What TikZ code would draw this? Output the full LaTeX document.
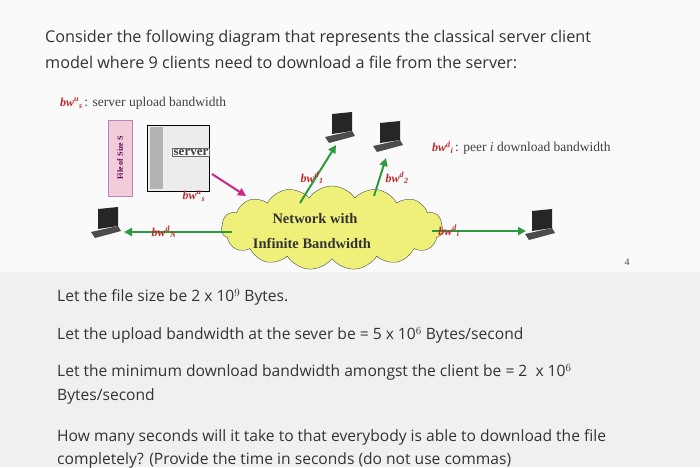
\documentclass[tikz,border=0pt]{standalone}
\usepackage{fontspec}
\setmainfont{Open Sans}
\newfontfamily\dserif{Liberation Serif}
\usetikzlibrary{shapes.symbols,arrows.meta}
\definecolor{bwred}{HTML}{C0282A}
\definecolor{arrgreen}{HTML}{2E9A3C}
\definecolor{cloudfill}{HTML}{EEF07A}
\newcommand{\bwl}[2]{bw\textsuperscript{#1}\textsubscript{#2}}
\tikzset{
  bw/.style={text=bwred,font=\dserif\bfseries\itshape\fontsize{12}{12}\selectfont,inner sep=1pt},
  body/.style={anchor=west,font=\fontsize{16.2}{16.2}\selectfont,text=black!80,inner sep=0pt},
  qtext/.style={anchor=west,font=\fontsize{15.6}{15.6}\selectfont,text=black!80,inner sep=0pt},
  darr/.style={draw=arrgreen,line width=2pt,-{Triangle[length=8pt,width=8pt]}},
  uarr/.style={draw=magenta!80!black,line width=2pt,-{Triangle[length=8pt,width=8pt]}},
}
\newcommand{\laptop}[2]{%
  \fill[black!85] (#1-10,#2-13) -- (#1+10,#2-15) -- (#1+10,#2+4) -- (#1-10,#2+7) -- cycle;
  \fill[black!70] (#1-17,#2+10) -- (#1+10,#2+4) -- (#1+13,#2+9) -- (#1-13,#2+16) -- cycle;}
\begin{document}
\begin{tikzpicture}[x=1pt,y=-1pt]
\useasboundingbox (0,0) rectangle (700,467);
\fill[white!96!gray] (0,0) rectangle (700,467);
\fill[black!6] (0,272) rectangle (700,467);
\node[body] (t1) at (45,38) {Consider the following diagram that represents the classical server client};
\node[body] (t2) at (45,62) {model where 9 clients need to download a file from the server:};
% legend
\node[anchor=west,inner sep=0pt] (lg1) at (60,103) {{\color{bwred}\dserif\bfseries\itshape\fontsize{12}{12}\selectfont \bwl{u}{s}}\,{\dserif\fontsize{13.5}{13.5}\selectfont\color{black!75} : server upload bandwidth}};
\node[anchor=west,inner sep=0pt] (lg2) at (432,148) {{\color{bwred}\dserif\bfseries\itshape\fontsize{12}{12}\selectfont \bwl{d}{i}}\,{\dserif\fontsize{13.5}{13.5}\selectfont\color{black!75} : peer \textit{i} download bandwidth}};
% scroll file
\node[draw=violet!50,fill=pink!80!violet!50,minimum width=24pt,minimum height=76pt,inner sep=0pt] (file) at (120,158) {};
\node[rotate=90,font=\dserif\bfseries\fontsize{8}{8}\selectfont,text=violet!70!black] (filet) at (file) {File of Size S};
% server
\node[draw=black,fill=gray!15,minimum width=62pt,minimum height=66pt,inner sep=0pt] (srv) at (178,158) {};
\fill[gray!60] (150,127) rectangle (163,189);
\node[draw=black!60,fill=white,inner sep=1pt,font=\dserif\bfseries\fontsize{13}{13}\selectfont,text=black!75] (srvt) at (191,152) {server};
% cloud
\node[cloud,cloud puffs=15,cloud puff arc=110,aspect=2.7,draw=black!70,fill=cloudfill,minimum width=222pt,minimum height=84pt,inner sep=0pt] (cloud) at (332,228) {};
\node[font=\dserif\bfseries\fontsize{14.5}{14.5}\selectfont,text=black!80] (n1) at (315,219) {Network with};
\node[font=\dserif\bfseries\fontsize{14.5}{14.5}\selectfont,text=black!80] (n2) at (312,243) {Infinite Bandwidth};
% laptops
\laptop{108}{222}
\laptop{342}{127}
\laptop{390}{136}
\laptop{542}{224}
\coordinate (L0) at (124,232);
\coordinate (L1) at (336,145);
\coordinate (L2) at (386,158);
\coordinate (L3) at (526,231);
\coordinate (c0) at (232,232);
\coordinate (c1) at (300,203);
\coordinate (c2) at (374,196);
\coordinate (c3) at (432,231);
\coordinate (s0) at (212,174);
\coordinate (cs) at (246,196);
\draw[uarr] (s0) -- (cs);
\draw[darr] (c0) -- (L0);
\draw[darr] (c1) -- (L1);
\draw[darr] (c2) -- (L2);
\draw[darr] (c3) -- (L3);
\node[bw] (b0) at (194,196) {\bwl{u}{s}};
\node[bw] (b1) at (312,178) {\bwl{d}{1}};
\node[bw] (b2) at (397,178) {\bwl{d}{2}};
\node[bw] (b3) at (164,232) {\bwl{d}{N}};
\node[bw] (b4) at (449,231) {\bwl{d}{i}};
\node[font=\dserif\fontsize{10}{10}\selectfont,text=black!70] (pg) at (627,262) {4};
% body text
\node[qtext] (q1) at (57,297) {Let the file size be 2 x 10$^{9}$ Bytes.};
\node[qtext] (q2) at (57,335) {Let the upload bandwidth at the sever be = 5 x 10$^{6}$ Bytes/second};
\node[qtext] (q3) at (57,372) {Let the minimum download bandwidth amongst the client be = 2 \ x 10$^{6}$};
\node[qtext] (q4) at (57,396) {Bytes/second};
\node[qtext] (q5) at (57,437) {How many seconds will it take to that everybody is able to download the file};
\node[qtext] (q6) at (57,460) {completely? (Provide the time in seconds (do not use commas)};
\end{tikzpicture}
\end{document}
